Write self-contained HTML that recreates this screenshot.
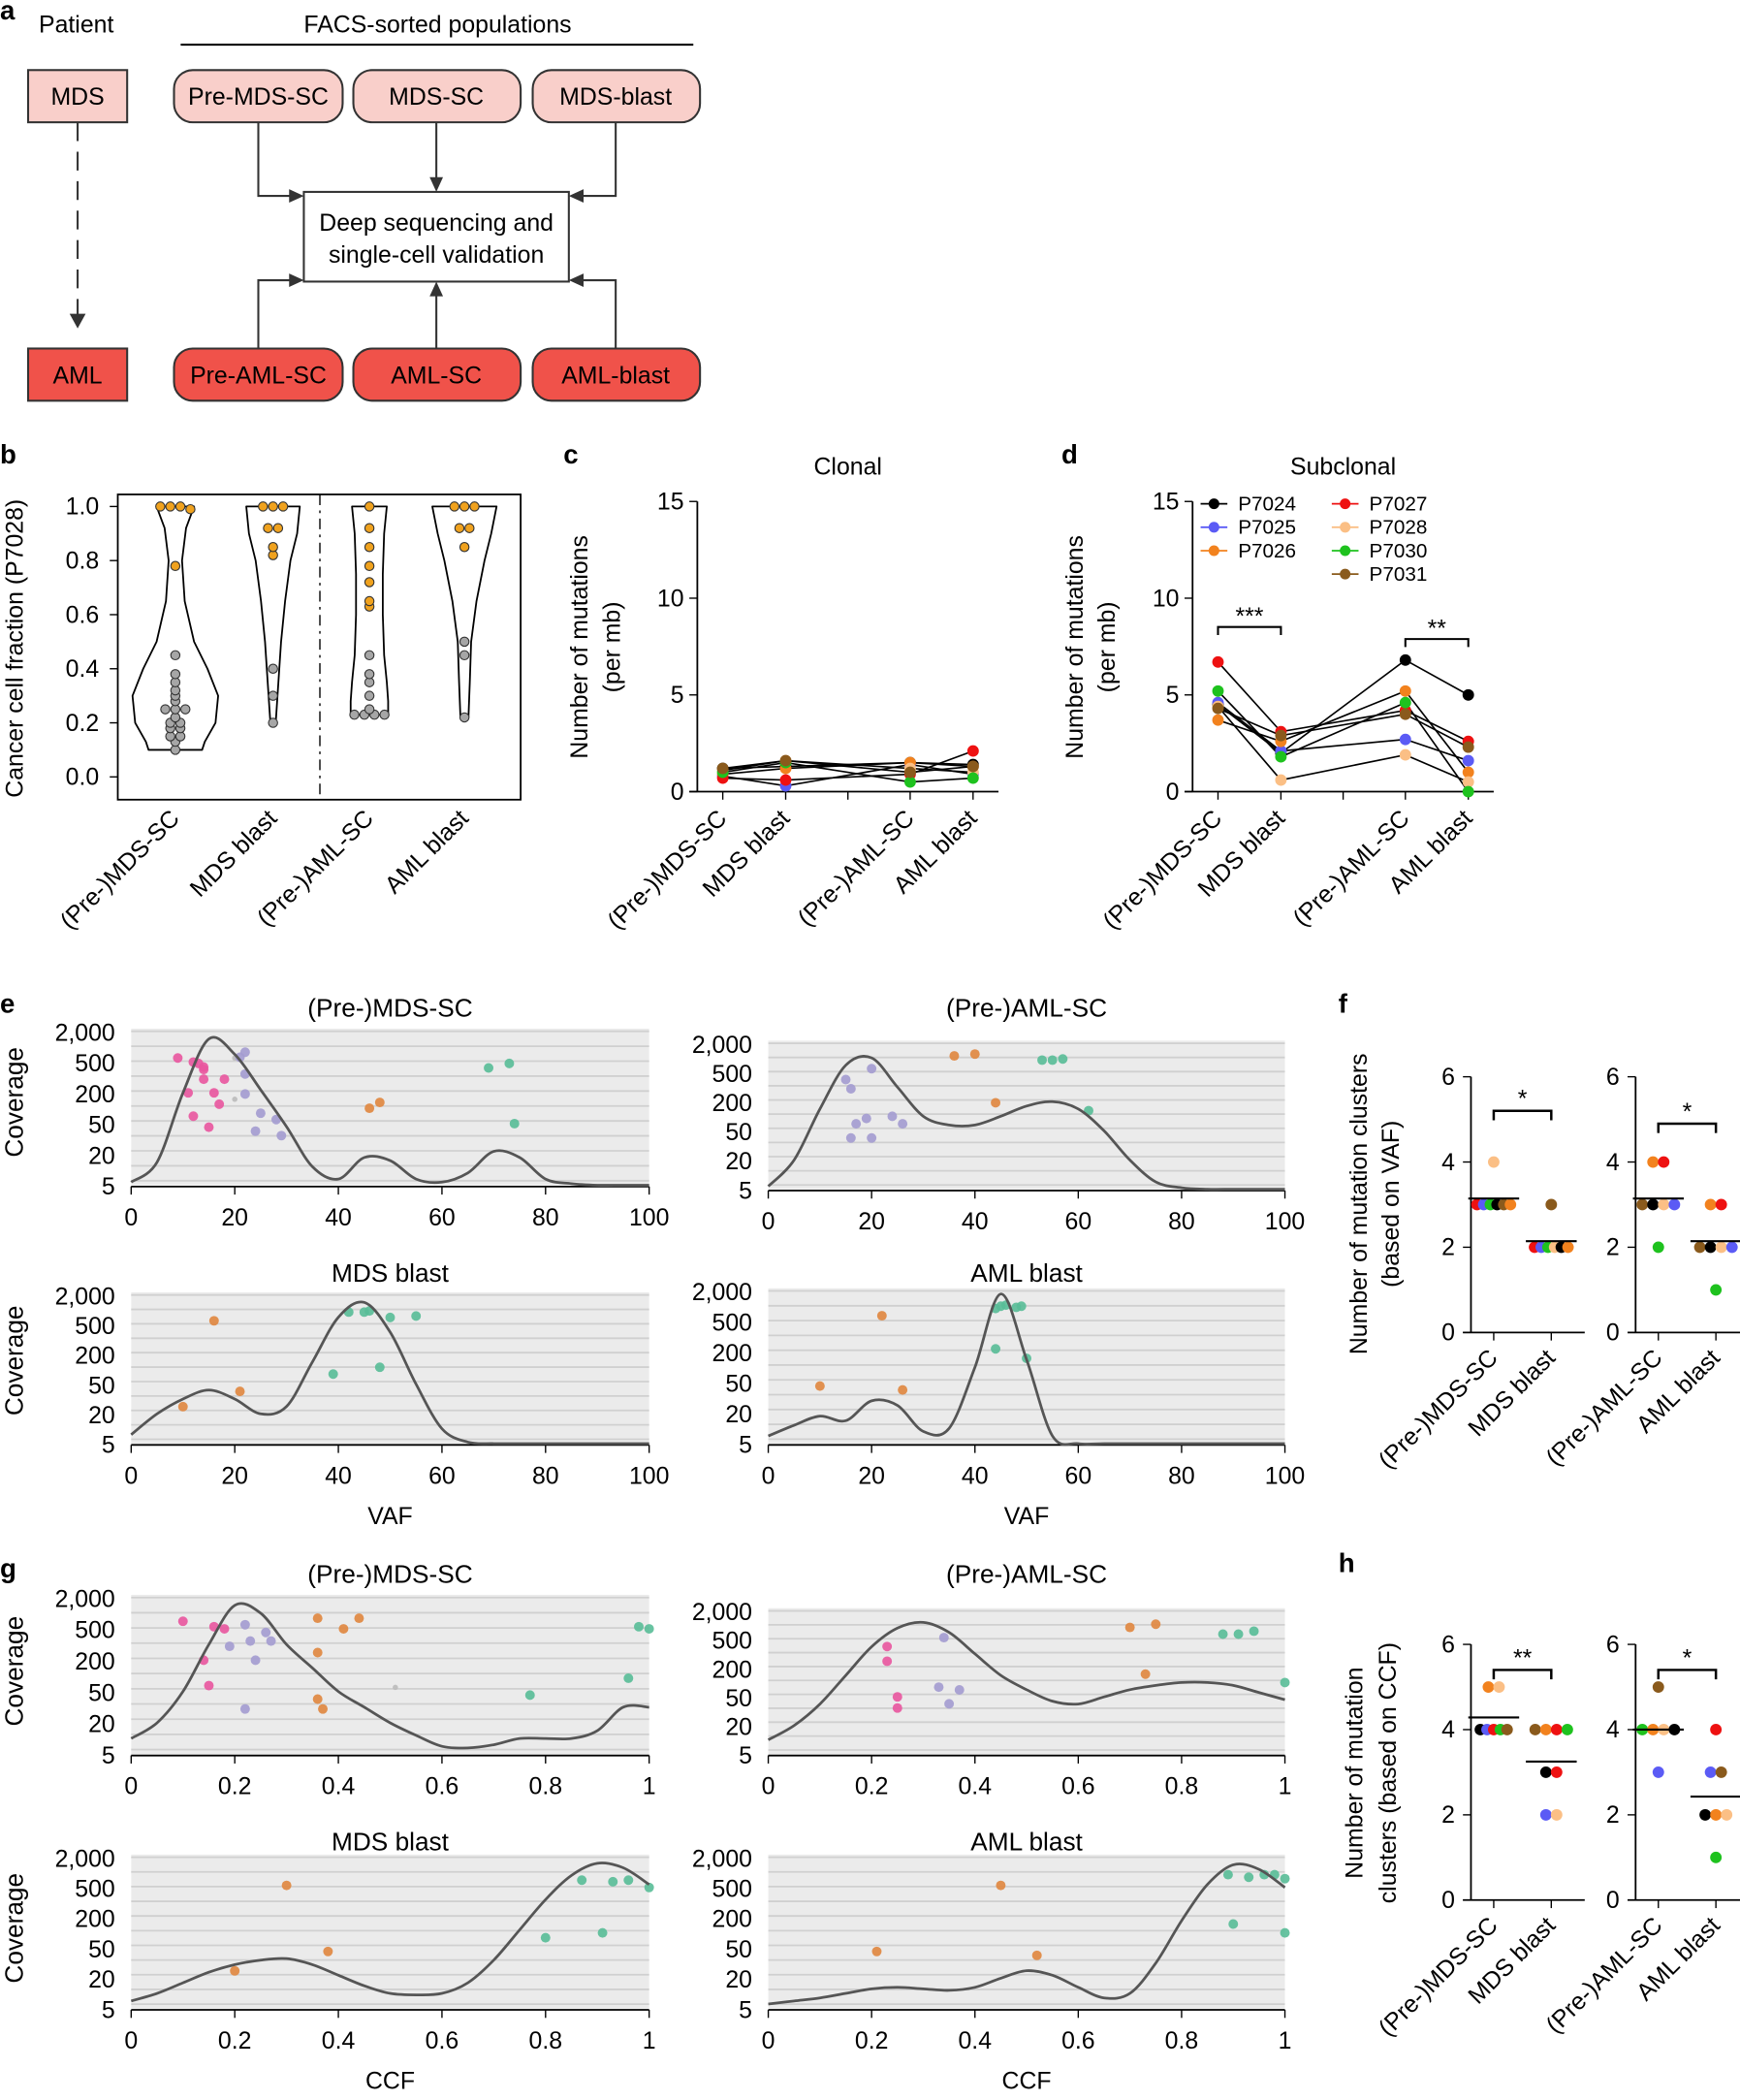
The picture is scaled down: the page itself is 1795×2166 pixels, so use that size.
<!DOCTYPE html>
<html><head><meta charset="utf-8"><style>
html,body{margin:0;padding:0;background:#fff;}
svg{display:block;font-family:"Liberation Sans",Arial,sans-serif;}
</style></head><body>
<svg id="fig" width="1795" height="2166" viewBox="0 0 1300 1568" xmlns="http://www.w3.org/2000/svg">
<g font-size="18" fill="#000">
<text x="0" y="14" font-weight="bold" font-size="20">a</text>
<text x="57" y="24" text-anchor="middle">Patient</text>
<text x="327" y="24" text-anchor="middle">FACS-sorted populations</text>
<line x1="135" y1="33" x2="518" y2="33" stroke="#000" stroke-width="1.5"/>
<rect x="21" y="52" width="74" height="39" fill="#f9cfca" stroke="#333" stroke-width="1.5"/>
<text x="58" y="78" text-anchor="middle">MDS</text>
<rect x="130" y="52" width="126" height="39" rx="14" fill="#f9cfca" stroke="#333" stroke-width="1.5"/>
<text x="193" y="78" text-anchor="middle">Pre-MDS-SC</text>
<rect x="264" y="52" width="125" height="39" rx="14" fill="#f9cfca" stroke="#333" stroke-width="1.5"/>
<text x="326" y="78" text-anchor="middle">MDS-SC</text>
<rect x="398" y="52" width="125" height="39" rx="14" fill="#f9cfca" stroke="#333" stroke-width="1.5"/>
<text x="460" y="78" text-anchor="middle">MDS-blast</text>
<rect x="227" y="143" width="198" height="67" fill="#fff" stroke="#333" stroke-width="1.5"/>
<text x="326" y="172" text-anchor="middle">Deep sequencing and</text>
<text x="326" y="196" text-anchor="middle">single-cell validation</text>
<rect x="21" y="260" width="74" height="39" fill="#f0524a" stroke="#333" stroke-width="1.5"/>
<text x="58" y="286" text-anchor="middle">AML</text>
<rect x="130" y="260" width="126" height="39" rx="14" fill="#f0524a" stroke="#333" stroke-width="1.5"/>
<text x="193" y="286" text-anchor="middle">Pre-AML-SC</text>
<rect x="264" y="260" width="125" height="39" rx="14" fill="#f0524a" stroke="#333" stroke-width="1.5"/>
<text x="326" y="286" text-anchor="middle">AML-SC</text>
<rect x="398" y="260" width="125" height="39" rx="14" fill="#f0524a" stroke="#333" stroke-width="1.5"/>
<text x="460" y="286" text-anchor="middle">AML-blast</text>
<g stroke="#333" stroke-width="1.5" fill="none">
<line x1="58" y1="91" x2="58" y2="236" stroke-dasharray="14,8"/>
<polyline points="193,91 193,146 218,146"/>
<line x1="326" y1="91" x2="326" y2="134"/>
<polyline points="460,91 460,146 434,146"/>
<polyline points="193,260 193,209 218,209"/>
<line x1="326" y1="260" x2="326" y2="219"/>
<polyline points="460,260 460,209 434,209"/>
</g>
<g fill="#333">
<polygon points="52,234 64,234 58,245"/>
<polygon points="216,141 216,151 227,146"/>
<polygon points="321,132 331,132 326,143"/>
<polygon points="436,141 436,151 425,146"/>
<polygon points="216,204 216,214 227,209"/>
<polygon points="321,221 331,221 326,210"/>
<polygon points="436,204 436,214 425,209"/>
</g>
</g>
<g id="dyn"></g>
</svg>
<script>
// ---------- DATA ----------
const patients = ['P7024','P7025','P7026','P7027','P7028','P7030','P7031'];
const patientColors = ['#000000','#5b5bf5','#f2821e','#ee1111','#fbbf85','#1ec21e','#8a5a1c'];
const groupLabels = ['(Pre-)MDS-SC','MDS blast','(Pre-)AML-SC','AML blast'];
const yTicks15 = [0,5,10,15];
const clonalValues = [
 [1.2,1.3,1.5,1.4],[0.8,0.3,1.4,0.9],[0.9,1.2,1.5,1.3],[0.7,0.6,0.9,2.1],[1.1,1.6,1.2,1.0],[1.0,1.5,0.5,0.7],[1.2,1.6,1.0,1.3]];
const subclonalValues = [
 [4.5,2.0,6.8,5.0],[4.6,2.1,2.7,1.6],[3.7,2.6,5.2,1.0],[6.7,3.1,4.2,2.6],[4.4,0.6,1.9,0.5],[5.2,1.8,4.6,0.0],[4.3,2.9,4.0,2.3]];
const bTicks = [0,0.2,0.4,0.6,0.8,1.0];
const bOrange = [[1.0,1.0,1.0,0.99,0.78],[1.0,1.0,1.0,0.92,0.92,0.85,0.82],[1.0,0.92,0.85,0.78,0.72,0.65,0.63],[1.0,1.0,1.0,0.92,0.92,0.85]];
const bGrey = [[0.45,0.38,0.35,0.32,0.3,0.28,0.25,0.25,0.25,0.22,0.2,0.2,0.18,0.18,0.15,0.15,0.13,0.1],[0.4,0.3,0.2],[0.45,0.38,0.35,0.3,0.25,0.23,0.23,0.23,0.23],[0.5,0.45,0.22]];
const covTicks = [5,20,50,200,500,2000];
const vafTicks = [0,20,40,60,80,100];
const ccfTicks = [0,0.2,0.4,0.6,0.8,1];
const dens_eMDS = [0.02,0.15,0.6,0.95,0.85,0.62,0.38,0.12,0.04,0.18,0.16,0.04,0.02,0.08,0.22,0.18,0.04,0.01,0,0,0];
const dens_eAML = [0.02,0.2,0.55,0.85,0.9,0.7,0.5,0.44,0.44,0.5,0.57,0.6,0.55,0.4,0.2,0.05,0.01,0,0,0,0];
const dens_eMDSb = [0.06,0.2,0.3,0.36,0.3,0.2,0.25,0.55,0.85,0.95,0.75,0.4,0.1,0.01,0,0,0,0,0,0,0];
const dens_eAMLb = [0.05,0.12,0.18,0.15,0.28,0.25,0.08,0.1,0.5,0.98,0.55,0.05,0,0,0,0,0,0,0,0,0];
const dens_gMDS = [0.1,0.2,0.4,0.7,0.95,0.9,0.7,0.55,0.4,0.3,0.2,0.12,0.05,0.04,0.06,0.1,0.1,0.1,0.15,0.3,0.3];
const dens_gAML = [0.1,0.2,0.35,0.55,0.75,0.88,0.92,0.85,0.7,0.55,0.45,0.37,0.35,0.4,0.45,0.48,0.5,0.5,0.48,0.43,0.38];
const dens_gMDSb = [0.05,0.1,0.17,0.24,0.29,0.32,0.33,0.29,0.22,0.15,0.1,0.09,0.1,0.17,0.32,0.52,0.72,0.88,0.96,0.93,0.82];
const dens_gAMLb = [0.03,0.05,0.07,0.1,0.13,0.14,0.13,0.12,0.14,0.2,0.25,0.22,0.14,0.07,0.1,0.3,0.58,0.82,0.95,0.92,0.8];
const clusterColors = {p:'#e9559f',u:'#a39bd0',o:'#e0863e',t:'#58bd97',g:'#bbbbbb'};
const pts_eMDS = [[9,600],[12,500],[13,480],[14,430],[14,400],[14,300],[11,200],[16,200],[18,300],[17,120],[12,70],[15,45],[20,600],[20,150],[22,780],[21,620],[22,350],[22,190],[25,80],[24,40],[29,35],[28,60],[46,100],[48,130],[69,420],[73,480],[74,50]];
const pts_eMDSc = ['p','p','p','p','p','p','p','p','p','p','p','p','g','g','u','u','u','u','u','u','u','u','o','o','t','t','t'];
const pts_eAML = [[15,400],[16,300],[20,600],[19,90],[17,70],[24,100],[26,70],[16,40],[20,40],[36,1100],[40,1200],[44,190],[53,900],[55,900],[57,950],[62,130]];
const pts_eAMLc = ['u','u','u','u','u','u','u','u','u','o','o','o','t','t','t','t'];
const pts_eMDSb = [[10,25],[16,600],[21,40],[39,80],[42,900],[45,900],[46,950],[48,110],[50,700],[55,750]];
const pts_eMDSbc = ['o','o','o','t','t','t','t','t','t','t'];
const pts_eAMLb = [[10,45],[22,650],[26,40],[44,900],[45,1000],[46,1050],[48,950],[49,1000],[44,220],[50,150]];
const pts_eAMLbc = ['o','o','o','t','t','t','t','t','t','t'];
const pts_gMDS = [[0.1,700],[0.14,200],[0.15,65],[0.16,550],[0.18,500],[0.19,300],[0.22,600],[0.23,350],[0.24,200],[0.22,30],[0.26,450],[0.27,350],[0.36,800],[0.36,250],[0.41,500],[0.44,800],[0.36,40],[0.37,30],[0.51,60],[0.77,45],[0.96,90],[0.98,550],[1.0,500]];
const pts_gMDSc = ['p','p','p','p','p','u','u','u','u','u','u','u','o','o','o','o','o','o','g','t','t','t','t'];
const pts_gAML = [[0.23,400],[0.23,250],[0.25,50],[0.25,35],[0.34,550],[0.33,80],[0.37,70],[0.35,40],[0.7,900],[0.75,1050],[0.73,150],[0.88,650],[0.91,650],[0.94,750],[1.0,100]];
const pts_gAMLc = ['p','p','p','p','u','u','u','u','o','o','o','t','t','t','t'];
const pts_gMDSb = [[0.2,25],[0.3,550],[0.38,45],[0.8,80],[0.87,700],[0.91,100],[0.93,650],[0.96,700],[1.0,500]];
const pts_gMDSbc = ['o','o','o','t','t','t','t','t','t'];
const pts_gAMLb = [[0.21,45],[0.45,550],[0.52,40],[0.89,900],[0.93,800],[0.96,900],[0.98,900],[1.0,750],[0.9,150],[1.0,100]];
const pts_gAMLbc = ['o','o','o','t','t','t','t','t','t','t'];
const fLeftA = [[4,4],[3,3],[1,3],[5,3],[0,3],[6,3],[2,3]];
const fLeftB = [[6,3],[3,2],[1,2],[5,2],[4,2],[0,2],[2,2]];
const fRightA = [[2,4],[3,4],[6,3],[0,3],[4,3],[1,3],[5,2]];
const fRightB = [[2,3],[3,3],[6,2],[0,2],[4,2],[1,2],[5,1]];
const hLeftA = [[2,5],[4,5],[0,4],[1,4],[3,4],[5,4],[6,4]];
const hLeftB = [[6,4],[2,4],[3,4],[5,4],[0,3],[3,3],[1,2],[4,2]];
const hRightA = [[6,5],[5,4],[2,4],[4,4],[0,4],[1,3]];
const hRightB = [[3,4],[1,3],[6,3],[0,2],[2,2],[4,2],[5,1]];
const clusterTicks = [0,2,4,6];

// ---------- HELPERS ----------
const NS='http://www.w3.org/2000/svg';
const root=document.getElementById('dyn');
function mk(tag, attrs, name, parent, txt){
  const e=document.createElementNS(NS,tag);
  for(const k in attrs) e.setAttribute(k,attrs[k]);
  
  
  if(txt!==undefined) e.textContent=txt;
  (parent||root).appendChild(e);
  return e;
}
function txt(x,y,s,opt,name,p){
  const a=Object.assign({x:x,y:y,'font-size':18,'text-anchor':'middle',fill:'#000'},opt||{});
  return mk('text',a,name,p,s);
}
function rotLabel(x,y,s,name,p){
  return mk('text',{x:x,y:y,'font-size':18,'text-anchor':'end',transform:'rotate(-45 '+x+' '+y+')'},name,p,s);
}

// ---------- PANEL B ----------
(function(){
  const g=mk('g',{},'panel-b');
  txt(0,346,'b',{'font-weight':'bold','font-size':20,'text-anchor':'start'},'panel-label-b',g);
  const yB=v=>580-v*202;
  mk('rect',{x:88,y:369,width:301,height:228,fill:'none',stroke:'#000','stroke-width':1.3},'plot-frame-b',g);
  mk('line',{x1:239,y1:369,x2:239,y2:597,stroke:'#000','stroke-dasharray':'8,4,2,4'},'divider-b',g);
  bTicks.forEach(t=>{
    mk('line',{x1:82,y1:yB(t),x2:88,y2:yB(t),stroke:'#000'},'y-tick-b',g);
    txt(74,yB(t)+6,t.toFixed(1),{'text-anchor':'end'},'y-tick-label-b',g);
  });
  mk('text',{x:17,y:484,'font-size':18,'text-anchor':'middle',transform:'rotate(-90 17 484)'},'y-axis-title-b',g,'Cancer cell fraction (P7028)');
  const cx=[131,204,276,347];
  const prof=[
    [[1,14],[0.92,8],[0.8,5],[0.65,7],[0.5,14],[0.4,24],[0.3,32],[0.2,30],[0.13,22],[0.1,20]],
    [[1,20],[0.9,18],[0.8,13],[0.65,9],[0.5,6],[0.35,4],[0.2,2]],
    [[1,13],[0.9,11],[0.75,10],[0.6,10],[0.45,11],[0.35,13],[0.28,14],[0.23,14]],
    [[1,24],[0.9,20],[0.8,15],[0.65,9],[0.5,5],[0.35,4],[0.22,3]]];
  prof.forEach((pr,i)=>{
    let d='M'+(cx[i]-pr[0][1])+','+yB(pr[0][0]);
    pr.forEach(p=>d+=' L'+(cx[i]-p[1])+','+yB(p[0]));
    for(let k=pr.length-1;k>=0;k--) d+=' L'+(cx[i]+pr[k][1])+','+yB(pr[k][0]);
    d+=' Z';
    mk('path',{d:d,fill:'none',stroke:'#000','stroke-width':1.3,'stroke-linejoin':'round'},'violin-'+i,g);
    const draw=(vals,col,nm)=>{
      const bins={};
      vals.forEach(v=>{const b=Math.round(v*40);(bins[b]=bins[b]||[]).push(v);});
      Object.keys(bins).forEach(b=>{
        const arr=bins[b];
        arr.forEach((v,j)=>{
          const dx=(j-(arr.length-1)/2)*7.5;
          mk('circle',{cx:cx[i]+dx,cy:yB(v),r:3.4,fill:col,stroke:'#333','stroke-width':0.8},nm,g);
        });
      });
    };
    draw(bGrey[i],'#a6a6a6','ccf-point-grey');
    draw(bOrange[i],'#f0a21e','ccf-point-orange');
    rotLabel(cx[i]+4,612,groupLabels[i],'x-label-b',g);
  });
})();

// ---------- PANELS C & D ----------
function linePanel(ax,xs,vals,title,letter,lx,withLegend){
  const g=mk('g',{},'panel-'+letter);
  txt(lx,346,letter,{'font-weight':'bold','font-size':20,'text-anchor':'start'},'panel-label-'+letter,g);
  const y=v=>591-v*14.45;
  txt((xs[0]+xs[3])/2,354,title,{},'title-'+letter,g);
  mk('line',{x1:ax,y1:y(15),x2:ax,y2:y(0),stroke:'#000','stroke-width':1.3},'y-axis-'+letter,g);
  mk('line',{x1:ax-6,y1:y(0),x2:xs[3]+19,y2:y(0),stroke:'#000','stroke-width':1.3},'x-axis-'+letter,g);
  yTicks15.forEach(t=>{
    mk('line',{x1:ax-6,y1:y(t),x2:ax,y2:y(t),stroke:'#000'},'y-tick-'+letter,g);
    txt(ax-10,y(t)+6,String(t),{'text-anchor':'end'},'y-tick-label-'+letter,g);
  });
  mk('text',{x:ax-82,y:483,'font-size':18,'text-anchor':'middle',transform:'rotate(-90 '+(ax-82)+' 483)'},'y-axis-title-'+letter+'-1',g,'Number of mutations');
  mk('text',{x:ax-58,y:483,'font-size':18,'text-anchor':'middle',transform:'rotate(-90 '+(ax-58)+' 483)'},'y-axis-title-'+letter+'-2',g,'(per mb)');
  const mid=(xs[1]+xs[2])/2;
  mk('line',{x1:mid,y1:y(0),x2:mid,y2:y(0)+6,stroke:'#000'},'x-tick-'+letter,g);
  xs.forEach((x,i)=>{
    mk('line',{x1:x,y1:y(0),x2:x,y2:y(0)+6,stroke:'#000'},'x-tick-'+letter,g);
    rotLabel(x+4,612,groupLabels[i],'x-label-'+letter,g);
  });
  vals.forEach((pv,p)=>{
    mk('polyline',{points:pv.map((v,i)=>xs[i]+','+y(v)).join(' '),fill:'none',stroke:'#000','stroke-width':1.2},'line-'+patients[p],g);
  });
  vals.forEach((pv,p)=>{
    pv.forEach((v,i)=>mk('circle',{cx:xs[i],cy:y(v),r:4.3,fill:patientColors[p]},'point-'+patients[p],g));
  });
  if(withLegend){
    patients.forEach((pn,i)=>{
      const col=i<3?0:1, row=i<3?i:i-3;
      const lx2=col?995:897, ly=376+row*17.5;
      mk('line',{x1:lx2,y1:ly,x2:lx2+20,y2:ly,stroke:patientColors[i],'stroke-width':1.3},'legend-line',g);
      mk('circle',{cx:lx2+10,cy:ly,r:4,fill:patientColors[i]},'legend-marker',g);
      txt(lx2+28,ly+5,pn,{'text-anchor':'start','font-size':15},'legend-entry',g);
    });
    const sig=(x1,x2,yy,s)=>{
      mk('polyline',{points:x1+','+(yy+6)+' '+x1+','+yy+' '+x2+','+yy+' '+x2+','+(yy+6),fill:'none',stroke:'#000','stroke-width':1.5},'sig-bracket',g);
      txt((x1+x2)/2,yy-2,s,{'font-size':18},'sig-stars',g);
    };
    sig(910,957,468,'***'); sig(1050,1097,477,'**');
  }
}
linePanel(521,[540,587,680,727],clonalValues,'Clonal','c',421,false);
linePanel(891,[910,957,1050,1097],subclonalValues,'Subclonal','d',793,true);

// ---------- DENSITY PANELS (E, G) ----------
function covY(c,top,bot){
  const lg=Math.log10(c);
  const L=covTicks.map(Math.log10);
  let f=0;
  if(lg>=L[L.length-1]) f=5;
  else for(let i=0;i<L.length-1;i++){ if(lg>=L[i]&&lg<=L[i+1]){f=i+(lg-L[i])/(L[i+1]-L[i]);break;} }
  return bot-(f/5)*(bot-top);
}
function densPanel(x0,x1,top,bot,titleY,title,dens,pts,cols,xt,xmax,xtitle,name,fmt){
  const g=mk('g',{},name);
  const xs=v=>x0+(v/xmax)*(x1-x0);
  mk('rect',{x:x0,y:top-2,width:x1-x0,height:bot-top+2,fill:'#ebebeb'},'plot-bg',g);
  for(let k=0;k<=10;k++){
    const yy=top+k*(bot-top)/10.3;
    mk('line',{x1:x0,y1:yy,x2:x1,y2:yy,stroke:'#d0d0d0','stroke-width':1.3},'gridline',g);
  }
  txt((x0+x1)/2,titleY,title,{'font-size':19},'plot-title',g);
  covTicks.forEach(c=>{
    const yy=covY(c,top,bot);
    txt(x0-12,yy+7,c===2000?'2,000':String(c),{'text-anchor':'end'},'y-tick-label',g);
  });
  mk('line',{x1:x0,y1:bot+1,x2:x1,y2:bot+1,stroke:'#000','stroke-width':1.3},'x-axis',g);
  xt.forEach(t=>{
    mk('line',{x1:xs(t),y1:bot+1,x2:xs(t),y2:bot+7,stroke:'#000'},'x-tick',g);
    txt(xs(t),bot+30,fmt(t),{},'x-tick-label',g);
  });
  if(xtitle) txt((x0+x1)/2,bot+60,xtitle,{},'x-axis-title',g);
  pts.forEach((p,i)=>{
    mk('circle',{cx:xs(p[0]),cy:covY(p[1],top,bot),r:cols[i]==='g'?2:3.6,fill:clusterColors[cols[i]],opacity:0.9},'mutation-point',g);
  });
  const P=dens.map((v,i)=>[x0+i*(x1-x0)/20, bot-v*(bot-top)]);
  let d='M'+P[0][0]+','+P[0][1];
  for(let i=0;i<P.length-1;i++){
    const p0=P[Math.max(0,i-1)],p1=P[i],p2=P[i+1],p3=P[Math.min(P.length-1,i+2)];
    d+=' C'+(p1[0]+(p2[0]-p0[0])/6)+','+(p1[1]+(p2[1]-p0[1])/6)+' '+(p2[0]-(p3[0]-p1[0])/6)+','+(p2[1]-(p3[1]-p1[1])/6)+' '+p2[0]+','+p2[1];
  }
  mk('path',{d:d,fill:'none',stroke:'#555','stroke-width':2},'density-curve',g);
  return g;
}
const fv=t=>String(t), fc=t=>(t===0||t===1)?String(t):t.toFixed(1);
txt(0,756,'e',{'font-weight':'bold','font-size':20,'text-anchor':'start'},'panel-label-e');
densPanel(98,485,770,885,759,'(Pre-)MDS-SC',dens_eMDS,pts_eMDS,pts_eMDSc,vafTicks,100,null,'plot-e-mds-sc',fv);
densPanel(574,960,779,888,759,'(Pre-)AML-SC',dens_eAML,pts_eAML,pts_eAMLc,vafTicks,100,null,'plot-e-aml-sc',fv);
densPanel(98,485,967,1078,957,'MDS blast',dens_eMDSb,pts_eMDSb,pts_eMDSbc,vafTicks,100,'VAF','plot-e-mds-blast',fv);
densPanel(574,960,964,1078,957,'AML blast',dens_eAMLb,pts_eAMLb,pts_eAMLbc,vafTicks,100,'VAF','plot-e-aml-blast',fv);
txt(0,1178,'g',{'font-weight':'bold','font-size':20,'text-anchor':'start'},'panel-label-g');
densPanel(98,485,1193,1310,1182,'(Pre-)MDS-SC',dens_gMDS,pts_gMDS,pts_gMDSc,ccfTicks,1,null,'plot-g-mds-sc',fc);
densPanel(574,960,1203,1310,1182,'(Pre-)AML-SC',dens_gAML,pts_gAML,pts_gAMLc,ccfTicks,1,null,'plot-g-aml-sc',fc);
densPanel(98,485,1387,1500,1382,'MDS blast',dens_gMDSb,pts_gMDSb,pts_gMDSbc,ccfTicks,1,'CCF','plot-g-mds-blast',fc);
densPanel(574,960,1387,1500,1382,'AML blast',dens_gAMLb,pts_gAMLb,pts_gAMLbc,ccfTicks,1,'CCF','plot-g-aml-blast',fc);
[[5,823],[5,1016],[5,1248],[5,1440]].forEach(p=>{
  mk('text',{x:p[0]+12,y:p[1],'font-size':19,'text-anchor':'middle',transform:'rotate(-90 '+(p[0]+12)+' '+p[1]+')'},'y-axis-title-coverage',root,'Coverage');
});

// ---------- CLUSTER PANELS (F, H) ----------
function clusterPanel(ax,y0,y6,A,B,labA,labB,sigStr,sigV,name){
  const g=mk('g',{},name);
  const y=v=>y0-(v/6)*(y0-y6);
  const xa=ax+17, xb=ax+60;
  mk('line',{x1:ax,y1:y(6),x2:ax,y2:y(0),stroke:'#000','stroke-width':1.3},'y-axis',g);
  mk('line',{x1:ax-6,y1:y(0),x2:xb+25,y2:y(0),stroke:'#000','stroke-width':1.3},'x-axis',g);
  clusterTicks.forEach(t=>{
    mk('line',{x1:ax-6,y1:y(t),x2:ax,y2:y(t),stroke:'#000'},'y-tick',g);
    txt(ax-12,y(t)+6,String(t),{'text-anchor':'end'},'y-tick-label',g);
  });
  [xa,xb].forEach(xc=>mk('line',{x1:xc,y1:y(0),x2:xc,y2:y(0)+6,stroke:'#000'},'x-tick',g));
  [[A,xa],[B,xb]].forEach(([arr,xc])=>{
    const bins={};
    arr.forEach(p=>{(bins[p[1]]=bins[p[1]]||[]).push(p);});
    Object.keys(bins).forEach(k=>{
      const L=bins[k];
      const sp=L.length>4?5:8;
      L.forEach((p,j)=>mk('circle',{cx:xc+(j-(L.length-1)/2)*sp,cy:y(p[1]),r:4.3,fill:patientColors[p[0]]},'cluster-point-'+patients[p[0]],g));
    });
    const mean=arr.reduce((s,p)=>s+p[1],0)/arr.length;
    mk('line',{x1:xc-19,y1:y(mean),x2:xc+19,y2:y(mean),stroke:'#000','stroke-width':1.5},'mean-line',g);
  });
  const sy=y(sigV);
  mk('polyline',{points:xa+','+(sy+7)+' '+xa+','+sy+' '+xb+','+sy+' '+xb+','+(sy+7),fill:'none',stroke:'#000','stroke-width':1.8},'sig-bracket',g);
  txt((xa+xb)/2,sy-3,sigStr,{},'sig-stars',g);
  rotLabel(xa+4,y(0)+20,labA,'x-label',g);
  rotLabel(xb+4,y(0)+20,labB,'x-label',g);
}
txt(1000,756,'f',{'font-weight':'bold','font-size':20,'text-anchor':'start'},'panel-label-f');
clusterPanel(1099,995,804,fLeftA,fLeftB,'(Pre-)MDS-SC','MDS blast','*',5.2,'plot-f-mds');
clusterPanel(1222,995,804,fRightA,fRightB,'(Pre-)AML-SC','AML blast','*',4.9,'plot-f-aml');
mk('text',{x:1021,y:899,'font-size':18,'text-anchor':'middle',transform:'rotate(-90 1021 899)'},'y-axis-title-f-1',root,'Number of mutation clusters');
mk('text',{x:1045,y:899,'font-size':18,'text-anchor':'middle',transform:'rotate(-90 1045 899)'},'y-axis-title-f-2',root,'(based on VAF)');
txt(1000,1174,'h',{'font-weight':'bold','font-size':20,'text-anchor':'start'},'panel-label-h');
clusterPanel(1099,1419,1228,hLeftA,hLeftB,'(Pre-)MDS-SC','MDS blast','**',5.4,'plot-h-mds');
clusterPanel(1222,1419,1228,hRightA,hRightB,'(Pre-)AML-SC','AML blast','*',5.4,'plot-h-aml');
mk('text',{x:1018,y:1324,'font-size':18,'text-anchor':'middle',transform:'rotate(-90 1018 1324)'},'y-axis-title-h-1',root,'Number of mutation');
mk('text',{x:1043,y:1324,'font-size':18,'text-anchor':'middle',transform:'rotate(-90 1043 1324)'},'y-axis-title-h-2',root,'clusters (based on CCF)');
</script>
</body></html>
